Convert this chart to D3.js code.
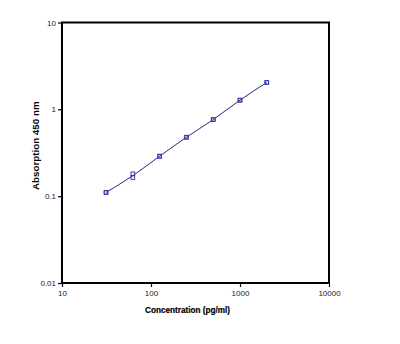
<!DOCTYPE html>
<html>
<head>
<meta charset="utf-8">
<script src="https://cdn.jsdelivr.net/npm/d3@7"></script>
<style>
  body { margin: 0; background: #fff; }
  text { font-family: "Liberation Sans", Arial, sans-serif; }
</style>
</head>
<body>
<svg id="chart" width="400" height="344"></svg>
<script>
'use strict';

// standard concentrations (pg/ml) and duplicate OD readings
const concentrations = [31.25, 62.5, 125, 250, 500, 1000, 2000];
const replicateA = [0.111, 0.181, 0.290, 0.478, 0.765, 1.28, 2.04];
const replicateB = [0.110, 0.164, 0.287, 0.476, 0.760, 1.27, 2.04];
const xTicks = [10, 100, 1000, 10000];
const yTicks = [0.01, 0.1, 1, 10];

const margin = {top: 22.5, right: 71, bottom: 61, left: 62};
const width = 400 - margin.left - margin.right,
  height = 344 - margin.top - margin.bottom;

const svg = d3.select('#chart')
  .append('g')
  .attr('transform', `translate(${margin.left},${margin.top})`);

const x = d3.scaleLog().domain([10, 10000]).range([0, width]);
const y = d3.scaleLog().domain([0.01, 10]).range([height, 0]);

const fmt = d => (d < 1 ? d3.format('')(d) : d3.format('d')(d));

const xAxis = svg.append('g')
  .attr('transform', `translate(0,${height})`)
  .call(d3.axisBottom(x).tickValues(xTicks).tickFormat(fmt).tickSize(4).tickPadding(3));

const yAxis = svg.append('g')
  .call(d3.axisLeft(y).tickValues(yTicks).tickFormat(fmt).tickSize(4).tickPadding(2));

[xAxis, yAxis].forEach(a => {
  a.select('.domain').remove();
  a.selectAll('line').attr('stroke', '#000').attr('stroke-width', 1.2);
  a.selectAll('text').style('font-size', '8px').attr('fill', '#222');
});

// frame
svg.append('rect')
  .attr('width', width)
  .attr('height', height)
  .attr('fill', 'none')
  .attr('stroke', '#000')
  .attr('stroke-width', 2);

// fitted curve through mean values
const means = concentrations.map((c, i) => ({c, v: Math.sqrt(replicateA[i] * replicateB[i])}));
svg.append('path')
  .datum(means)
  .attr('fill', 'none')
  .attr('stroke', '#2a2a80')
  .attr('stroke-width', 1)
  .attr('d', d3.line().x(d => x(d.c)).y(d => y(d.v)).curve(d3.curveMonotoneX));

const points = concentrations.flatMap((c, i) => [{c, v: replicateA[i]}, {c, v: replicateB[i]}]);
svg.append('g')
  .selectAll('rect')
  .data(points)
  .enter()
  .append('rect')
  .attr('x', d => x(d.c) - 1.8)
  .attr('y', d => y(d.v) - 1.8)
  .attr('width', 3.6)
  .attr('height', 3.6)
  .attr('fill', 'none')
  .attr('stroke', '#3a3ab0')
  .attr('stroke-width', 1);

svg.append('text')
  .attr('x', width / 2 - 8)
  .attr('y', height + 30)
  .attr('text-anchor', 'middle')
  .style('font-size', '8.2px')
  .style('font-weight', 'bold')
  .attr('stroke', '#000')
  .attr('stroke-width', 0.2)
  .text('Concentration (pg/ml)');

svg.append('text')
  .attr('transform', `translate(-23,${height / 2 - 7}) rotate(-90)`)
  .attr('text-anchor', 'middle')
  .style('font-size', '9.8px')
  .style('font-weight', 'bold')
  .text('Absorption 450 nm');
</script>
</body>
</html>
